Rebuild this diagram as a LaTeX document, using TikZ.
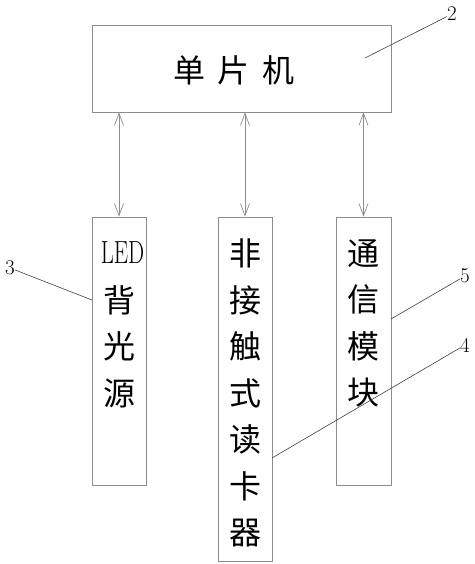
\documentclass[tikz,border=0pt]{standalone}
\usepackage{fontspec}
\usepackage{graphicx}
\newfontfamily\cjk{Noto Sans CJK SC}
\usetikzlibrary{arrows.meta}

\tikzset{
	box/.style = {draw = black!45, line width = 0.8pt, inner sep = 0pt},
	link/.style = {draw = black!45, line width = 0.7pt, {Straight Barb[length = 12pt, width = 9pt]}-{Straight Barb[length = 12pt, width = 9pt]}},
	leader/.style = {draw = black!75, line width = 0.6pt},
	num/.style = {font = \fontsize{21}{21}\selectfont, inner sep = 0pt},
	vtext/.style = {font = \cjk\fontsize{32}{46.5}\selectfont, align = center, inner sep = 0pt, anchor = north}
}

\begin{document}
\begin{tikzpicture}[x = 1pt, y = -1pt]
	\useasboundingbox (0, 0) rectangle (474, 564);

	% boxes
	\node[box, minimum width = 299pt, minimum height = 87pt] (mcu) at (241.5, 68.5) {};
	\node[box, minimum width = 54pt, minimum height = 268pt] (led) at (119, 351) {};
	\node[box, minimum width = 54pt, minimum height = 344pt] (reader) at (245, 389) {};
	\node[box, minimum width = 55pt, minimum height = 268pt] (comm) at (363.5, 351) {};

	% texts
	\node[font = \cjk\fontsize{32}{32}\selectfont] (mcutext) at (234, 70) {单\hspace{13pt}片\hspace{13pt}机};
	\node[font = \fontsize{32}{32}\selectfont, inner sep = 0pt] (ledtext) at (122.5, 253) {\scalebox{0.71}[1]{LED}};
	\node[vtext] (ledcn) at (119, 285) {背\\光\\源};
	\node[vtext] (readertext) at (245, 239) {非\\接\\触\\式\\读\\卡\\器};
	\node[vtext] (commtext) at (363.5, 239) {通\\信\\模\\块};

	% links
	\draw[link] (mcu.south -| led.north) -- (led.north);
	\draw[link] (mcu.south -| reader.north) -- (reader.north);
	\draw[link] (mcu.south -| comm.north) -- (comm.north);

	% reference numbers
	\node[num] (n2) at (452, 14) {2};
	\node[num] (n3) at (10, 268) {3};
	\node[num] (n4) at (465, 345) {4};
	\node[num] (n5) at (465, 276) {5};
	\coordinate (p2) at (365, 58);
	\coordinate (p3) at (92, 300);
	\coordinate (p4) at (272, 458);
	\coordinate (p5) at (391, 319);
	\draw[leader] (p2) -- (n2);
	\draw[leader] (p3) -- (n3);
	\draw[leader] (p4) -- (n4);
	\draw[leader] (p5) -- (n5);
\end{tikzpicture}
\end{document}
